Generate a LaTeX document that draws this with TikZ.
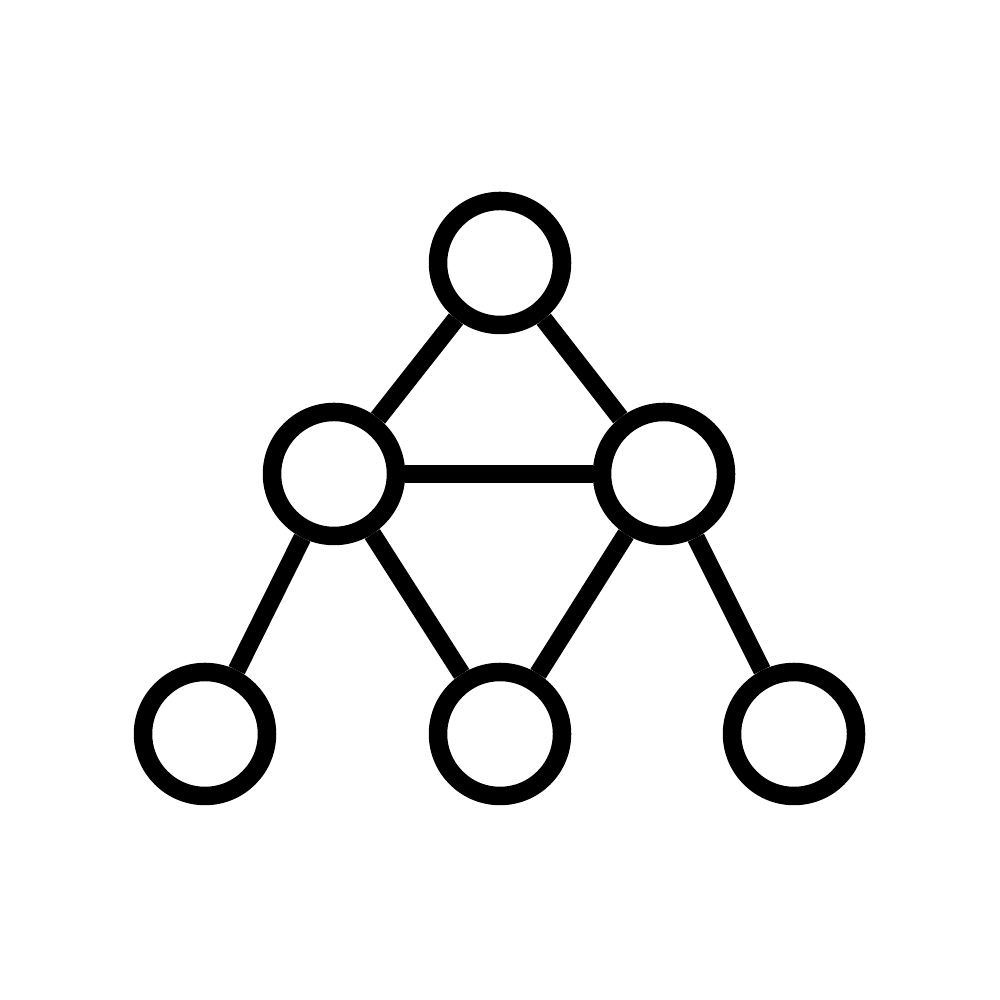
\documentclass[tikz,border=0pt]{standalone}
\usepackage{tikz}

\begin{document}
\begin{tikzpicture}[vertex/.style={draw,circle,line width=0.185cm,minimum size=1.24cm,inner sep=0pt},link/.style={line width=0.18cm}]
\useasboundingbox (0,0) rectangle (10,10);
\node[vertex] (top) at (5,7.37) {};
\node[vertex] (midl) at (3.34,5.26) {};
\node[vertex] (midr) at (6.64,5.26) {};
\node[vertex] (botl) at (2.05,2.66) {};
\node[vertex] (botm) at (5,2.66) {};
\node[vertex] (botr) at (7.94,2.66) {};
\draw[link] (top) -- (midl);
\draw[link] (top) -- (midr);
\draw[link] (midl) -- (midr);
\draw[link] (midl) -- (botl);
\draw[link] (midl) -- (botm);
\draw[link] (midr) -- (botm);
\draw[link] (midr) -- (botr);
\end{tikzpicture}
\end{document}
